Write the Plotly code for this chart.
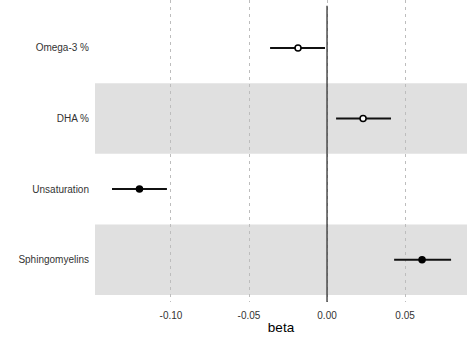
import plotly.graph_objects as go

labels = ["Sphingomyelins", "Unsaturation", "DHA %", "Omega-3 %"]
beta = [0.0609, -0.1202, 0.0231, -0.0186]
ci_low = [0.0430, -0.1378, 0.0058, -0.0365]
ci_high = [0.0795, -0.1026, 0.0410, -0.0013]
filled = [True, True, False, False]
x_ticks = [-0.10, -0.05, 0.00, 0.05]
x_ticktext = ["-0.10", "-0.05", "0.00", "0.05"]

pos = list(range(1, len(labels) + 1))

fig = go.Figure()

shapes = []
for i, p in enumerate(pos):
    if i % 2 == 0:
        shapes.append(dict(type="rect", xref="paper", yref="y", x0=0, x1=1,
                           y0=p - 0.5, y1=p + 0.5, fillcolor="#e0e0e0",
                           line=dict(width=0), layer="below"))
# solid reference line at zero
shapes.append(dict(type="line", xref="x", yref="y", x0=0, x1=0,
                   y0=0.4, y1=len(labels) + 0.6,
                   line=dict(color="#333333", width=1.3), layer="above"))

for p, b, lo, hi, f in zip(pos, beta, ci_low, ci_high, filled):
    fig.add_trace(go.Scatter(
        x=[b], y=[p], mode="markers",
        error_x=dict(type="data", symmetric=False, array=[hi - b], arrayminus=[b - lo],
                     width=0, thickness=2, color="#111111"),
        marker=dict(size=6, color="black" if f else "white",
                    line=dict(color="black", width=1.5)),
        showlegend=False, hoverinfo="x+y"))

fig.update_layout(
    width=474, height=338,
    margin=dict(l=95, r=7, t=0, b=36),
    plot_bgcolor="white", paper_bgcolor="white",
    shapes=shapes,
    font=dict(family="Liberation Sans, Arial, sans-serif", color="#333333", size=10),
    xaxis=dict(range=[-0.1487, 0.0897], tickvals=x_ticks, ticktext=x_ticktext,
               showgrid=True, gridcolor="#bdbdbd", griddash="3px,4px", gridwidth=1,
               zeroline=False, showline=False,
               ticks="outside", ticklen=4, tickcolor="rgba(0,0,0,0)",
               tickfont=dict(size=10, color="#333333"),
               title=dict(text="beta", font=dict(size=13.5, color="black"), standoff=2)),
    yaxis=dict(range=[0.4, 4.68], tickvals=pos, ticktext=labels,
               showgrid=False, zeroline=False, showline=False, ticks="",
               tickfont=dict(size=10, color="#333333"), ticklabelstandoff=5),
)

fig.write_html("out.html")
